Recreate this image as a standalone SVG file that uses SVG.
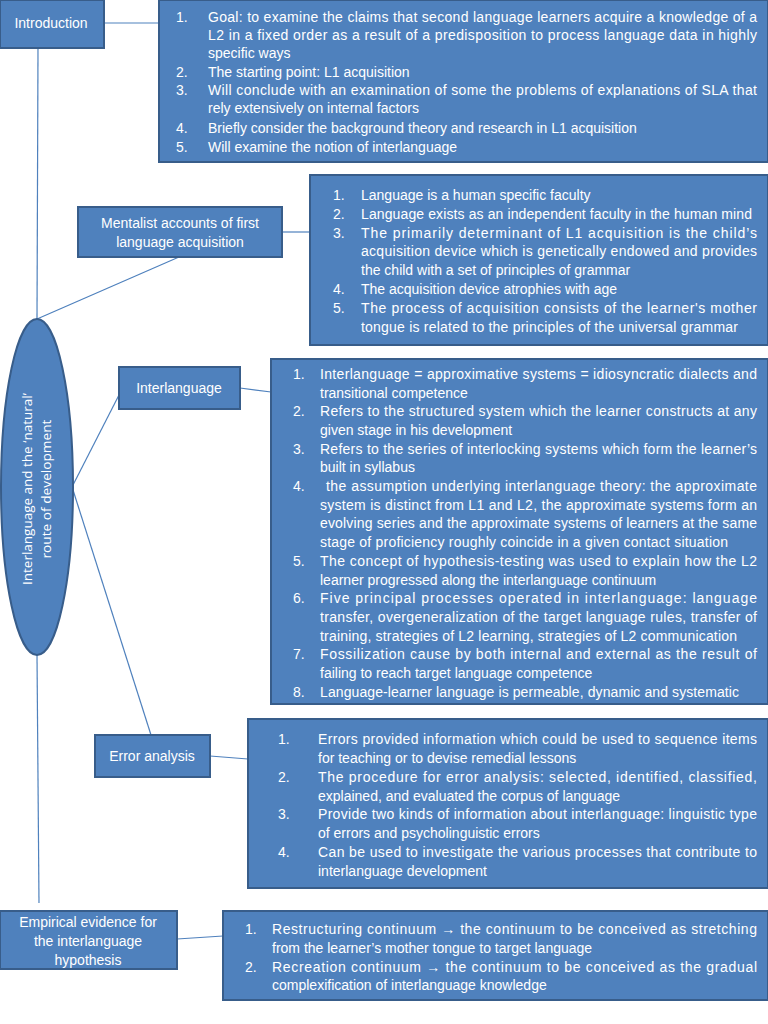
<svg xmlns="http://www.w3.org/2000/svg" width="768" height="1024" viewBox="0 0 768 1024">
<style>
.box{fill:#4F81BD;stroke:#385D8A;stroke-width:2}
.t{font-family:"Liberation Sans",Arial,sans-serif;font-size:14px;fill:#ffffff}
.c{text-anchor:middle}
.con{stroke:#4F81BD;stroke-width:1.2;fill:none}
.ell{font-family:"Open Sans","DejaVu Sans",sans-serif;font-size:12px;fill:#ffffff;text-anchor:middle}
</style>
<rect width="768" height="1024" fill="#ffffff"/>
<g id="connectors">
<line class="con" x1="104" y1="23" x2="159" y2="23"/>
<line class="con" x1="38" y1="48" x2="37" y2="319"/>
<line class="con" x1="179" y1="257" x2="37" y2="319"/>
<line class="con" x1="282" y1="232" x2="310" y2="232"/>
<line class="con" x1="73" y1="485" x2="119" y2="395"/>
<line class="con" x1="240" y1="388" x2="271" y2="392"/>
<line class="con" x1="73" y1="490" x2="151" y2="735"/>
<line class="con" x1="210" y1="756" x2="248" y2="759"/>
<line class="con" x1="37" y1="655" x2="39" y2="903"/>
<line class="con" x1="177" y1="939" x2="223" y2="936"/>
</g>
<g id="introduction">
<rect class="box" x="0" y="0" width="104" height="48"/>
<text class="t c" x="51" y="28">Introduction</text>
</g>
<g id="intro-list">
<rect class="box" x="159" y="0" width="609" height="162"/>
<text class="t" x="176" y="22">1.</text>
<text class="t" x="208" y="22" textLength="549" lengthAdjust="spacing">Goal: to examine the claims that second language learners acquire a knowledge of a</text>
<text class="t" x="208" y="40" textLength="549" lengthAdjust="spacing">L2 in a fixed order as a result of a predisposition to process language data in highly</text>
<text class="t" x="208" y="58">specific ways</text>
<text class="t" x="176" y="77">2.</text>
<text class="t" x="208" y="77">The starting point: L1 acquisition</text>
<text class="t" x="176" y="95">3.</text>
<text class="t" x="208" y="95" textLength="549" lengthAdjust="spacing">Will conclude with an examination of some the problems of explanations of SLA that</text>
<text class="t" x="208" y="113">rely extensively on internal factors</text>
<text class="t" x="176" y="133">4.</text>
<text class="t" x="208" y="133">Briefly consider the background theory and research in L1 acquisition</text>
<text class="t" x="176" y="152">5.</text>
<text class="t" x="208" y="152">Will examine the notion of interlanguage</text>
</g>
<g id="mentalist">
<rect class="box" x="78" y="207" width="204" height="50"/>
<text class="t c" x="180" y="228">Mentalist accounts of first</text>
<text class="t c" x="180" y="247">language acquisition</text>
</g>
<g id="mentalist-list">
<rect class="box" x="310" y="175" width="458" height="170"/>
<text class="t" x="333" y="200">1.</text>
<text class="t" x="361" y="200">Language is a human specific faculty</text>
<text class="t" x="333" y="219">2.</text>
<text class="t" x="361" y="219" textLength="391" lengthAdjust="spacing">Language exists as an independent faculty in the human mind</text>
<text class="t" x="333" y="238">3.</text>
<text class="t" x="361" y="238" textLength="396" lengthAdjust="spacing">The primarily determinant of L1 acquisition is the child’s</text>
<text class="t" x="361" y="256" textLength="396" lengthAdjust="spacing">acquisition device which is genetically endowed and provides</text>
<text class="t" x="361" y="275">the child with a set of principles of grammar</text>
<text class="t" x="333" y="294">4.</text>
<text class="t" x="361" y="294">The acquisition device atrophies with age</text>
<text class="t" x="333" y="313">5.</text>
<text class="t" x="361" y="313" textLength="396" lengthAdjust="spacing">The process of acquisition consists of the learner's mother</text>
<text class="t" x="361" y="332" textLength="377" lengthAdjust="spacing">tongue is related to the principles of the universal grammar</text>
</g>
<g id="interlanguage-natural">
<ellipse cx="37" cy="487" rx="36" ry="168" fill="#4F81BD" stroke="#385D8A" stroke-width="2"/>
<text class="ell" transform="translate(32,489) rotate(-90)" textLength="192" lengthAdjust="spacingAndGlyphs">Interlanguage and the ‘natural’</text>
<text class="ell" transform="translate(51,489) rotate(-90)" textLength="139" lengthAdjust="spacingAndGlyphs">route of development</text>
</g>
<g id="interlanguage">
<rect class="box" x="119" y="367" width="121" height="42"/>
<text class="t c" x="179" y="393">Interlanguage</text>
</g>
<g id="interlanguage-list">
<rect class="box" x="271" y="359" width="497" height="345"/>
<text class="t" x="293" y="379">1.</text>
<text class="t" x="320" y="379" textLength="437" lengthAdjust="spacing">Interlanguage = approximative systems = idiosyncratic dialects and</text>
<text class="t" x="320" y="398">transitional competence</text>
<text class="t" x="293" y="416">2.</text>
<text class="t" x="320" y="416" textLength="437" lengthAdjust="spacing">Refers to the structured system which the learner constructs at any</text>
<text class="t" x="320" y="435">given stage in his development</text>
<text class="t" x="293" y="454">3.</text>
<text class="t" x="320" y="454" textLength="437" lengthAdjust="spacing">Refers to the series of interlocking systems which form the learner’s</text>
<text class="t" x="320" y="472">built in syllabus</text>
<text class="t" x="293" y="491">4.</text>
<text class="t" x="326" y="491" textLength="431" lengthAdjust="spacing">the assumption underlying interlanguage theory: the approximate</text>
<text class="t" x="320" y="510" textLength="437" lengthAdjust="spacing">system is distinct from L1 and L2, the approximate systems form an</text>
<text class="t" x="320" y="528" textLength="437" lengthAdjust="spacing">evolving series and the approximate systems of learners at the same</text>
<text class="t" x="320" y="547" textLength="408" lengthAdjust="spacing">stage of proficiency roughly coincide in a given contact situation</text>
<text class="t" x="293" y="566">5.</text>
<text class="t" x="320" y="566" textLength="437" lengthAdjust="spacing">The concept of hypothesis-testing was used to explain how the L2</text>
<text class="t" x="320" y="585">learner progressed along the interlanguage continuum</text>
<text class="t" x="293" y="603">6.</text>
<text class="t" x="320" y="603" textLength="437" lengthAdjust="spacing">Five principal processes operated in interlanguage: language</text>
<text class="t" x="320" y="622" textLength="437" lengthAdjust="spacing">transfer, overgeneralization of the target language rules, transfer of</text>
<text class="t" x="320" y="641" textLength="417" lengthAdjust="spacing">training, strategies of L2 learning, strategies of L2 communication</text>
<text class="t" x="293" y="659">7.</text>
<text class="t" x="320" y="659" textLength="437" lengthAdjust="spacing">Fossilization cause by both internal and external as the result of</text>
<text class="t" x="320" y="678">failing to reach target language competence</text>
<text class="t" x="293" y="697">8.</text>
<text class="t" x="320" y="697" textLength="419" lengthAdjust="spacing">Language-learner language is permeable, dynamic and systematic</text>
</g>
<g id="error-analysis">
<rect class="box" x="95" y="735" width="115" height="42"/>
<text class="t c" x="152" y="761">Error analysis</text>
</g>
<g id="error-list">
<rect class="box" x="248" y="719" width="520" height="169"/>
<text class="t" x="278" y="744">1.</text>
<text class="t" x="318" y="744" textLength="439" lengthAdjust="spacing">Errors provided information which could be used to sequence items</text>
<text class="t" x="318" y="763">for teaching or to devise remedial lessons</text>
<text class="t" x="278" y="782">2.</text>
<text class="t" x="318" y="782" textLength="439" lengthAdjust="spacing">The procedure for error analysis: selected, identified, classified,</text>
<text class="t" x="318" y="801">explained, and evaluated the corpus of language</text>
<text class="t" x="278" y="819">3.</text>
<text class="t" x="318" y="819" textLength="439" lengthAdjust="spacing">Provide two kinds of information about interlanguage: linguistic type</text>
<text class="t" x="318" y="838">of errors and psycholinguistic errors</text>
<text class="t" x="278" y="857">4.</text>
<text class="t" x="318" y="857" textLength="439" lengthAdjust="spacing">Can be used to investigate the various processes that contribute to</text>
<text class="t" x="318" y="876">interlanguage development</text>
</g>
<g id="empirical">
<rect class="box" x="0" y="911" width="177" height="58"/>
<text class="t c" x="88" y="927">Empirical evidence for</text>
<text class="t c" x="88" y="946">the interlanguage</text>
<text class="t c" x="88" y="965">hypothesis</text>
</g>
<g id="empirical-list">
<rect class="box" x="223" y="911" width="545" height="89"/>
<text class="t" x="245" y="934">1.</text>
<text class="t" x="272" y="934" textLength="485" lengthAdjust="spacing">Restructuring continuum → the continuum to be conceived as stretching</text>
<text class="t" x="272" y="953">from the learner’s mother tongue to target language</text>
<text class="t" x="245" y="972">2.</text>
<text class="t" x="272" y="972" textLength="485" lengthAdjust="spacing">Recreation continuum → the continuum to be conceived as the gradual</text>
<text class="t" x="272" y="990">complexification of interlanguage knowledge</text>
</g>
</svg>
